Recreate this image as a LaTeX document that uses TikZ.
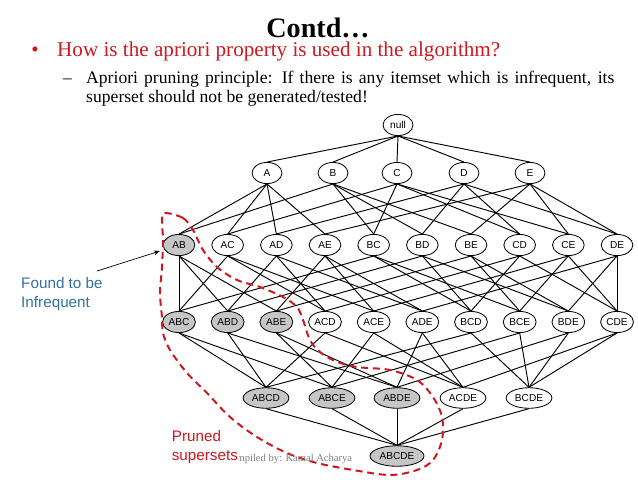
\documentclass[tikz,border=0pt]{standalone}
\usepackage{fontspec}
\setmainfont{Liberation Serif}
\newfontfamily\arialfont{Liberation Sans}
\usetikzlibrary{positioning, arrows.meta, shapes.geometric}
\definecolor{slidered}{RGB}{204,24,30}
\definecolor{noteblue}{RGB}{52,112,160}
\definecolor{footgray}{RGB}{128,128,128}
\tikzset{
	itemnode/.style={ellipse, draw=black, line width=0.7pt, fill=white,
		minimum width=25.5pt, minimum height=18pt, inner sep=0pt,
		font=\arialfont\fontsize{8.6}{9}\selectfont},
	prunednode/.style={itemnode, fill=gray!45},
	latedge/.style={line width=0.8pt, draw=black},
	notetext/.style={font=\arialfont\fontsize{13}{15.5}\selectfont, align=left, inner sep=0pt},
	slidetext/.style={inner sep=0pt, anchor=base west}
}

\begin{document}
\begin{tikzpicture}[x=0.852pt, y=-0.852pt,
		pruneline/.style={draw=slidered, line width=1.7pt, dash pattern=on 6pt off 4pt}]
	\useasboundingbox (0,0) rectangle (638,479);
	% slide text
	\node[font=\bfseries\fontsize{24}{26}\selectfont, anchor=base, inner sep=0pt] (title) at (318,37) {Contd…};
	\node[slidetext, anchor=base, text=slidered, font=\fontsize{18}{20}\selectfont] (bullet) at (35,56) {•};
	\node[slidetext, text=slidered, font=\fontsize{18}{20}\selectfont] (question) at (57,56) {How is the apriori property is used in the algorithm?};
	\node[slidetext, font=\fontsize{15}{17}\selectfont] (dash) at (63,83) {–};
	\node[slidetext, font=\fontsize{15}{17}\selectfont] (rule1) at (86,83)
		{\makebox[450pt][s]{Apriori pruning principle: If there is any itemset which is infrequent, its}};
	\node[slidetext, font=\fontsize{15}{17}\selectfont] (rule2) at (86,102) {superset should not be generated/tested!};

	% itemset lattice
	\node[itemnode] (null) at (398,125) {null};
	\foreach \n/\x in {A/267, B/333, C/397, D/464, E/530}
		\node[itemnode] (\n) at (\x,173) {\n};
	\foreach \n/\s [count=\i from 0] in {AB/prunednode, AC/itemnode, AD/itemnode, AE/itemnode, BC/itemnode,
			BD/itemnode, BE/itemnode, CD/itemnode, CE/itemnode, DE/itemnode}
		\node[\s, minimum width=27pt] (\n) at ({179+48.67*\i},245) {\n};
	\foreach \n/\s [count=\i from 0] in {ABC/prunednode, ABD/prunednode, ABE/prunednode, ACD/itemnode, ACE/itemnode,
			ADE/itemnode, BCD/itemnode, BCE/itemnode, BDE/itemnode, CDE/itemnode}
		\node[\s, minimum width=28pt] (\n) at ({179+48.67*\i},322) {\n};
	\foreach \n/\s/\x in {ABCD/prunednode/266, ABCE/prunednode/332, ABDE/prunednode/397,
			ACDE/itemnode/463, BCDE/itemnode/529}
		\node[\s, minimum width=39pt, minimum height=17.5pt] (\n) at (\x,398) {\n};
	\node[prunednode, minimum width=46pt, minimum height=17.5pt] (ABCDE) at (397,456) {ABCDE};

	% subset edges
	\foreach \a in {A, B, C, D, E}
		\draw[latedge] (null.south) -- (\a.north);
	\foreach \a/\b in {A/B, A/C, A/D, A/E, B/C, B/D, B/E, C/D, C/E, D/E} {
		\draw[latedge] (\a.south) -- (\a\b.north);
		\draw[latedge] (\b.south) -- (\a\b.north);
	}
	\foreach \a/\b/\c in {A/B/C, A/B/D, A/B/E, A/C/D, A/C/E, A/D/E, B/C/D, B/C/E, B/D/E, C/D/E} {
		\draw[latedge] (\a\b.south) -- (\a\b\c.north);
		\draw[latedge] (\a\c.south) -- (\a\b\c.north);
		\draw[latedge] (\b\c.south) -- (\a\b\c.north);
	}
	\foreach \a/\b/\c/\d in {A/B/C/D, A/B/C/E, A/B/D/E, A/C/D/E, B/C/D/E} {
		\draw[latedge] (\a\b\c.south) -- (\a\b\c\d.north);
		\draw[latedge] (\a\b\d.south) -- (\a\b\c\d.north);
		\draw[latedge] (\a\c\d.south) -- (\a\b\c\d.north);
		\draw[latedge] (\b\c\d.south) -- (\a\b\c\d.north);
	}
	\foreach \n in {ABCD, ABCE, ABDE, ACDE, BCDE}
		\draw[latedge] (\n.south) -- (ABCDE.north);

	% pruned region
	\draw[pruneline] plot[smooth cycle, tension=0.55] coordinates {
		(165,213) (183,218) (193,230) (203,250) (217,267) (237,280) (260,287) (283,297)
		(297,307) (303,320) (310,340) (320,352) (335,361) (357,367) (390,370) (417,380)
		(433,397) (442,417) (442,440) (433,460) (417,470) (390,475) (353,470) (317,463)
		(287,453) (257,437) (230,417) (207,393) (187,373) (170,350) (163,333) (162,317)
		(160,293) (162,267) (163,240) (162,220)};

	% annotations
	\node[notetext, text=noteblue, anchor=west] (found) at (21,294) {Found to be\\Infrequent};
	\coordinate (foundtail) at (97,271);
	\draw[-{Stealth[length=5pt, width=4pt]}, line width=0.6pt, shorten >=4pt] (foundtail) -- (AB);
	\node[inner sep=0pt, anchor=base west, text=footgray, font=\fontsize{9}{10}\selectfont] (footer) at (224,461) {Compiled by: Kamal Acharya};
	\node[notetext, text=slidered, anchor=west, fill=white, inner sep=0.5pt] (pruned) at (171,447) {Pruned\\supersets};
\end{tikzpicture}
\end{document}
